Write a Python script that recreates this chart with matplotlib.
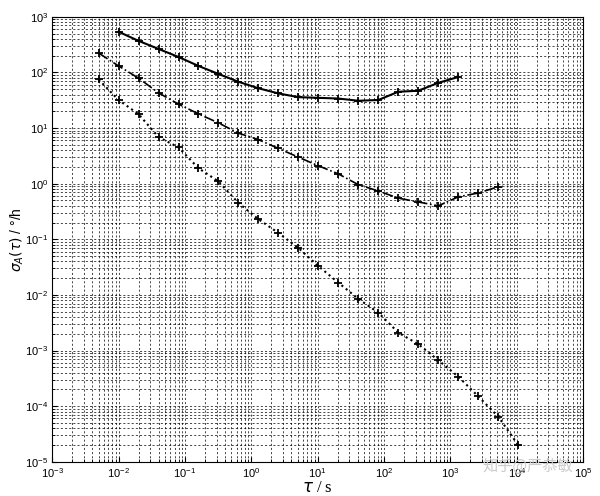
import matplotlib
matplotlib.use("Agg")
import matplotlib.pyplot as plt
import numpy as np

x1 = [0.01 * 2**n for n in range(18)]
y1 = [540, 370, 265, 190, 131, 94, 68, 52, 42, 36, 35, 34, 31, 32, 45, 47, 65, 83]
x2 = [0.005 * 2**n for n in range(21)]
y2 = [224, 131, 79, 43, 27, 18, 12.4, 8.1, 6.2, 4.3, 3.0, 2.1, 1.5, 0.96, 0.74,
      0.55, 0.47, 0.40, 0.58, 0.68, 0.88]
x3 = [0.005 * 2**n for n in range(22)]
y3 = [75, 32, 17.8, 6.9, 4.5, 1.9, 1.1, 0.45, 0.23, 0.13, 0.07, 0.033, 0.0166,
      0.0085, 0.0048, 0.0021, 0.0013, 6.7e-4, 3.4e-4, 1.5e-4, 6.5e-5, 2.0e-5]

plt.rcParams['font.family'] = ['Liberation Sans', 'DejaVu Sans']
fig = plt.figure(figsize=(6, 4.96), dpi=100)
ax = fig.add_axes([0.087, 0.069, 0.885, 0.897])
kw = dict(color='black', marker='+', markersize=6, markeredgewidth=1.3)
ax.plot(x1, y1, '-', lw=1.5, **kw)
ax.plot(x2, y2, '-.', lw=1.2, **kw)
ax.plot(x3, y3, ':', lw=1.5, **kw)
ax.set_xscale('log'); ax.set_yscale('log')
ax.set_xlim(1e-3, 1e5); ax.set_ylim(1e-5, 1e3)
ax.grid(True, which='both', ls=(0, (3, 3)), color='black', lw=0.5)
ax.tick_params(which='both', direction='in', labelsize=8, pad=3)
ax.set_xlabel(r'$\mathit{\tau}$ / s', fontsize=12, labelpad=0, family='Liberation Serif')
ax.set_ylabel(r'$\sigma_A(\tau)$ / °/h', fontsize=10, labelpad=-1)
fig.text(0.88, 0.06, '知乎@严恭敏', color='#cccccc', fontsize=11,
         family=['Noto Sans CJK SC', 'DejaVu Sans'], ha='center', va='center')
fig.savefig('out.png')
